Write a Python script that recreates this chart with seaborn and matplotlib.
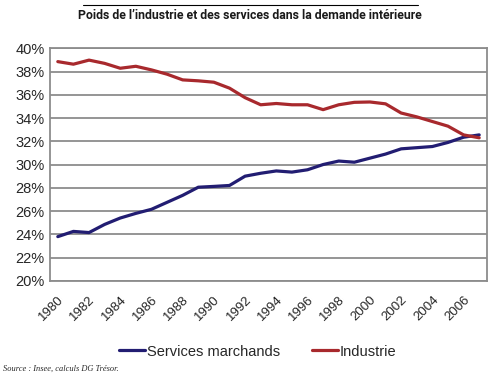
import numpy as np
import pandas as pd
import matplotlib
matplotlib.use("Agg")
import matplotlib.pyplot as plt
import seaborn as sns
from matplotlib.lines import Line2D

# données (en %)
annees = list(range(1980, 2008))
services = [23.8, 24.25, 24.15, 24.85, 25.4, 25.8, 26.15, 26.75, 27.35, 28.05,
            28.12, 28.2, 29.0, 29.25, 29.45, 29.35, 29.55, 30.0, 30.3, 30.2,
            30.55, 30.9, 31.35, 31.45, 31.55, 31.9, 32.35, 32.55]
industrie = [38.85, 38.63, 38.98, 38.7, 38.28, 38.45, 38.14, 37.77, 37.28, 37.2,
             37.08, 36.57, 35.75, 35.14, 35.25, 35.14, 35.14, 34.72, 35.14, 35.35,
             35.38, 35.22, 34.43, 34.1, 33.7, 33.3, 32.55, 32.3]
noms = ["Services marchands", "Industrie"]
couleurs = ["#221d72", "#a8292d"]

df = pd.DataFrame({
    "annee": annees * 2,
    "valeur": services + industrie,
    "serie": [noms[0]] * len(annees) + [noms[1]] * len(annees),
})

sns.set_style("white")
plt.rcParams["font.family"] = ["Liberation Sans", "DejaVu Sans"]

fig = plt.figure(figsize=(5, 3.8), dpi=100)
ax = fig.add_axes([0.1, 0.261, 0.874, 0.612])

sns.lineplot(data=df, x="annee", y="valeur", hue="serie", palette=couleurs,
             linewidth=2.3, ax=ax, legend=False)

ax.set_xlim(1979.5, 2007.5)
ax.set_ylim(20, 40)
ax.set_yticks(np.arange(20, 41, 2))
ax.set_yticklabels([f"{v}%" for v in range(20, 41, 2)], fontsize=10.5)
ax.set_xticks(range(1980, 2007, 2))
ax.set_xticklabels([str(a) for a in range(1980, 2007, 2)], rotation=45,
                   ha="right", rotation_mode="anchor", fontsize=9.5)
ax.set_xticks(np.arange(1979.5, 2008, 1), minor=True)
ax.tick_params(axis="x", which="major", length=0, pad=9)
ax.tick_params(axis="x", which="minor", length=4, color="#808080", width=1, direction="out")
ax.tick_params(axis="y", length=0, pad=4)
ax.grid(axis="y", color="#8c8c8c", linewidth=1.3)
ax.set_axisbelow(True)
for s in ax.spines.values():
    s.set_color("#8c8c8c")
    s.set_linewidth(1.3)
ax.set_xlabel("")
ax.set_ylabel("")

# titre avec filet au-dessus
fig.text(0.5, 0.96, "Poids de l\u2019industrie et des services dans la demande intérieure",
         ha="center", va="center", fontsize=8.8, fontweight="bold",
         family=["Roboto", "DejaVu Sans"], color="#1a1a1a")
fig.add_artist(Line2D([0.166, 0.836], [0.988, 0.988], color="black", linewidth=0.8))

handles = [Line2D([], [], color=c, linewidth=2.3) for c in couleurs]
fig.legend(handles, noms, loc="center", bbox_to_anchor=(0.515, 0.075), ncol=2,
           frameon=False, fontsize=10.5, handlelength=1.8, handletextpad=0.1,
           columnspacing=2.2)

fig.text(0.006, 0.03, "Source : Insee, calculs DG Trésor.", fontsize=6,
         style="italic", family=["Liberation Serif", "DejaVu Serif"], ha="left", va="center")

fig.savefig("out.png", dpi=100)
